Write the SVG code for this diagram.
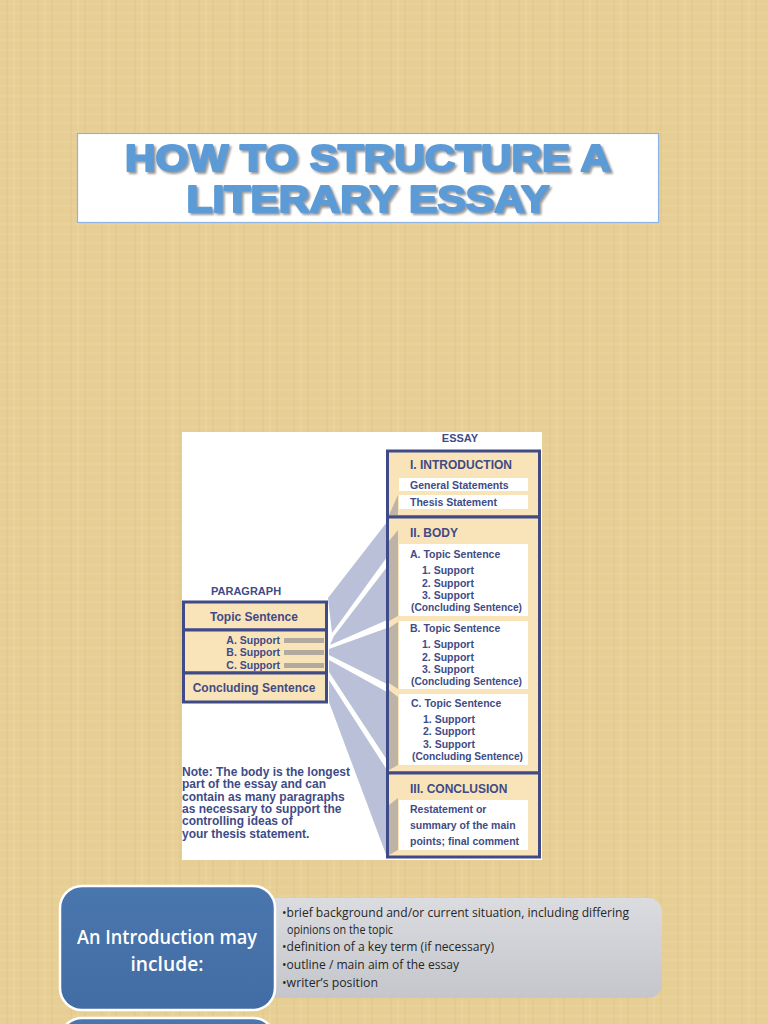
<svg xmlns="http://www.w3.org/2000/svg" width="768" height="1024" viewBox="0 0 768 1024">
<defs>
<pattern id="papyrus" width="64" height="46" patternUnits="userSpaceOnUse">
<rect width="64" height="46" fill="#E7CE95"/>
<path d="M0 4H64M0 13H64M0 22H64M0 31H64M0 40H64" stroke="#F0DCA8" stroke-width="1.2" opacity="0.5"/>
<path d="M7 0V46M21 0V46M38 0V46M52 0V46" stroke="#DCC085" stroke-width="1.5" opacity="0.4"/>
<path d="M14 0V46M45 0V46" stroke="#F1DEAE" stroke-width="1" opacity="0.5"/>
</pattern>
<linearGradient id="grayGrad" x1="0" y1="0" x2="0" y2="1">
<stop offset="0" stop-color="#DADCE0"/>
<stop offset="1" stop-color="#C4C6CB"/>
</linearGradient>
<linearGradient id="blueGrad" x1="0" y1="0" x2="0" y2="1">
<stop offset="0" stop-color="#4A76AE"/>
<stop offset="1" stop-color="#426DA4"/>
</linearGradient>
<filter id="shadow" x="-5%" y="-20%" width="110%" height="140%">
<feDropShadow dx="2" dy="2" stdDeviation="1" flood-color="#7f7f7f" flood-opacity="0.8"/>
</filter>
</defs>
<style>
.t{font-family:"Liberation Sans",Arial,sans-serif;font-weight:bold;fill:#3F4B86}
.h{font-size:12px}
.s{font-size:10.5px}
.p{font-size:12px}
.box{fill:#F9E3B9;stroke:#3F4B86;stroke-width:3}
.bar{fill:#FFFFFF}
.beam{fill:#B9C0D7}
.taupe{fill:#BDB3A6}
.gbar{fill:#B2AA9F}
.title{font-family:"Liberation Sans",Arial,sans-serif;font-weight:bold;font-size:36px;fill:#5B9BD6;stroke:#5B9BD6;stroke-width:2;stroke-linejoin:round;text-anchor:middle}
.bt{font-family:"Open Sans","Noto Sans",sans-serif;font-weight:600;fill:#FFFFFF;font-size:19px;text-anchor:middle}
.lt{font-family:"Open Sans","Noto Sans",sans-serif;fill:#262626;font-size:13px}
</style>
<rect width="768" height="1024" fill="url(#papyrus)"/>

<g id="title">
<rect x="77.5" y="133.5" width="581" height="89" fill="#FFFFFF" stroke="#8DB3E2" stroke-width="1.2"/>
<g filter="url(#shadow)">
<text class="title" x="368" y="171" textLength="486" lengthAdjust="spacingAndGlyphs">HOW TO STRUCTURE A</text>
<text class="title" x="368" y="212" textLength="363" lengthAdjust="spacingAndGlyphs">LITERARY ESSAY</text>
</g>
</g>

<g id="panel">
<rect x="182" y="432" width="360" height="428" fill="#FFFFFF"/>
</g>

<g id="connectors">
<polygon class="beam" points="328,598 387,522 387,557 332,633"/>
<polygon class="beam" points="334,636 387,567 387,620 330,645"/>
<polygon class="beam" points="329,649 387,628 387,684 329,655"/>
<polygon class="beam" points="329,660 387,692 387,760 329,672"/>
<polygon class="beam" points="329,680 387,770 387,857 329,702"/>
</g>

<g id="essay-label">
<text class="t" x="460" y="442" font-size="11" text-anchor="middle">ESSAY</text>
</g>

<g id="essay-introduction">
<rect class="box" x="387.5" y="451" width="152" height="66"/>
<polygon class="taupe" points="389,515 398,495 398,515"/>
<text class="t h" x="410" y="469">I. INTRODUCTION</text>
<rect class="bar" x="399" y="478" width="129" height="13"/>
<rect class="bar" x="399" y="495" width="129" height="14"/>
<text class="t s" x="410" y="489">General Statements</text>
<text class="t s" x="410" y="506">Thesis Statement</text>
</g>

<g id="essay-body">
<rect class="box" x="387.5" y="517" width="152" height="256"/>
<polygon class="taupe" points="389,541 398,530 398,616 389,621"/>
<polygon class="taupe" points="389,628 398,622 398,689 389,683"/>
<polygon class="taupe" points="389,690 398,697 398,765 389,770"/>
<text class="t h" x="410" y="537">II. BODY</text>
<rect class="bar" x="399" y="544" width="129" height="72"/>
<rect class="bar" x="399" y="621" width="129" height="68"/>
<rect class="bar" x="399" y="694" width="129" height="71"/>
<text class="t s" x="410" y="558">A. Topic Sentence</text>
<text class="t s" x="422" y="574">1. Support</text>
<text class="t s" x="422" y="587">2. Support</text>
<text class="t s" x="422" y="599">3. Support</text>
<text class="t s" x="411" y="611" textLength="111" lengthAdjust="spacingAndGlyphs">(Concluding Sentence)</text>
<text class="t s" x="410" y="632">B. Topic Sentence</text>
<text class="t s" x="422" y="648">1. Support</text>
<text class="t s" x="422" y="661">2. Support</text>
<text class="t s" x="422" y="673">3. Support</text>
<text class="t s" x="411" y="685" textLength="111" lengthAdjust="spacingAndGlyphs">(Concluding Sentence)</text>
<text class="t s" x="411" y="707">C. Topic Sentence</text>
<text class="t s" x="423" y="723">1. Support</text>
<text class="t s" x="423" y="735">2. Support</text>
<text class="t s" x="423" y="748">3. Support</text>
<text class="t s" x="412" y="760" textLength="111" lengthAdjust="spacingAndGlyphs">(Concluding Sentence)</text>
</g>

<g id="essay-conclusion">
<rect class="box" x="387.5" y="773" width="152" height="84"/>
<polygon class="taupe" points="389,805 398,798 398,850 389,855"/>
<text class="t h" x="410" y="793">III. CONCLUSION</text>
<rect class="bar" x="399" y="800" width="129" height="50"/>
<text class="t s" x="410" y="813">Restatement or</text>
<text class="t s" x="410" y="829">summary of the main</text>
<text class="t s" x="410" y="845">points; final comment</text>
</g>

<g id="paragraph-label">
<text class="t" x="211" y="595" font-size="11">PARAGRAPH</text>
</g>

<g id="paragraph">
<rect class="box" x="183.5" y="602" width="143" height="28"/>
<rect class="box" x="183.5" y="630" width="143" height="43"/>
<rect class="box" x="183.5" y="673" width="143" height="29"/>
<rect class="gbar" x="284" y="638" width="40" height="5"/>
<rect class="gbar" x="284" y="650" width="40" height="5"/>
<rect class="gbar" x="284" y="663" width="40" height="5"/>
<text class="t p" x="254" y="621" text-anchor="middle">Topic Sentence</text>
<text class="t s" x="280" y="644" text-anchor="end">A. Support</text>
<text class="t s" x="280" y="656" text-anchor="end">B. Support</text>
<text class="t s" x="280" y="669" text-anchor="end">C. Support</text>
<text class="t p" x="254" y="692" text-anchor="middle">Concluding Sentence</text>
</g>

<g id="note">
<text class="t p" x="182" y="776">Note: The body is the longest</text>
<text class="t p" x="182" y="788">part of the essay and can</text>
<text class="t p" x="182" y="801">contain as many paragraphs</text>
<text class="t p" x="182" y="813">as necessary to support the</text>
<text class="t p" x="182" y="825">controlling ideas of</text>
<text class="t p" x="182" y="838">your thesis statement.</text>
</g>

<g id="intro-list">
<rect x="262" y="898" width="400" height="100" rx="14" fill="url(#grayGrad)"/>
<text class="lt" x="282" y="917" textLength="347" lengthAdjust="spacingAndGlyphs">•brief background and/or current situation, including differing</text>
<text class="lt" x="287" y="934" textLength="106" lengthAdjust="spacingAndGlyphs">opinions on the topic</text>
<text class="lt" x="282" y="951" textLength="212" lengthAdjust="spacingAndGlyphs">•definition of a key term (if necessary)</text>
<text class="lt" x="282" y="969" textLength="177" lengthAdjust="spacingAndGlyphs">•outline / main aim of the essay</text>
<text class="lt" x="282" y="987" textLength="96" lengthAdjust="spacingAndGlyphs">•writer’s position</text>
</g>

<g id="intro-box">
<rect x="60" y="886" width="215" height="124" rx="22" fill="url(#blueGrad)" stroke="#FFFFFF" stroke-width="2.5"/>
<text class="bt" x="167" y="944" textLength="180" lengthAdjust="spacingAndGlyphs">An Introduction may</text>
<text class="bt" x="167" y="971" textLength="73" lengthAdjust="spacingAndGlyphs">include:</text>
</g>

<g id="next-box">
<rect x="60" y="1018" width="215" height="60" rx="22" fill="url(#blueGrad)" stroke="#FFFFFF" stroke-width="2.5"/>
</g>
</svg>
